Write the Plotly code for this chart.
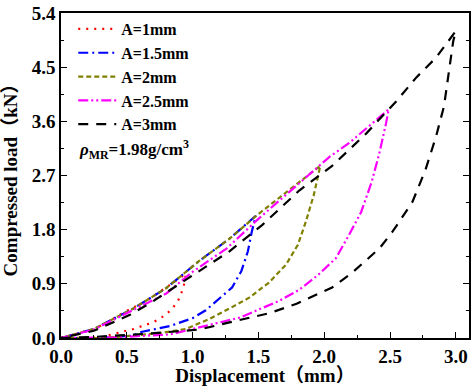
import plotly.graph_objects as go

# ---- data ----
x_a1 = [0, 0.30, 0.37, 0.47, 0.55, 0.70, 0.77, 0.84, 0.89, 0.93, 0.95,
        0.80, 0.65, 0.50, 0.25, 0]
y_a1 = [0, 0.01, 0.05, 0.10, 0.15, 0.26, 0.35, 0.47, 0.62, 0.83, 1.07,
        0.84, 0.62, 0.45, 0.14, 0]

x_a15 = [0, 0.30, 0.55, 0.61, 0.83, 1.00, 1.10, 1.20, 1.30, 1.37, 1.42, 1.45, 1.48,
         1.28, 1.05, 0.80, 0.55, 0.25, 0]
y_a15 = [0, 0.00, 0.04, 0.10, 0.20, 0.33, 0.46, 0.65, 0.84, 1.11, 1.44, 1.77, 2.03,
         1.65, 1.28, 0.83, 0.49, 0.15, 0]

x_a2 = [0, 0.30, 0.50, 0.75, 0.95, 1.13, 1.28, 1.43, 1.58, 1.71, 1.80, 1.86, 1.92, 1.97,
        1.81, 1.66, 1.50, 1.28, 1.05, 0.80, 0.55, 0.25, 0]
y_a2 = [0, 0.00, 0.03, 0.08, 0.15, 0.32, 0.49, 0.67, 0.92, 1.22, 1.55, 1.93, 2.37, 2.86,
        2.59, 2.34, 2.06, 1.65, 1.28, 0.83, 0.49, 0.15, 0]

x_a25 = [0, 0.40, 0.83, 1.05, 1.36, 1.66, 1.81, 1.96, 2.09, 2.19, 2.28, 2.36, 2.42, 2.47, 2.49,
         2.34, 2.19, 2.04, 1.81, 1.50, 1.26, 1.00, 0.80, 0.50, 0.25, 0]
y_a25 = [0, 0.01, 0.06, 0.18, 0.34, 0.62, 0.80, 1.06, 1.33, 1.72, 2.09, 2.59, 3.08, 3.57, 3.80,
         3.52, 3.24, 3.01, 2.57, 1.98, 1.49, 1.10, 0.74, 0.42, 0.14, 0]

x_a3 = [0, 0.27, 0.65, 1.05, 1.28, 1.58, 1.79, 2.06, 2.21, 2.42, 2.52, 2.67, 2.77, 2.85, 2.91,
        2.95, 2.98, 3.00,
        2.85, 2.70, 2.55, 2.32, 2.06, 1.81, 1.53, 1.28, 1.05, 0.67, 0.52, 0.25, 0]
y_a3 = [0, 0.02, 0.07, 0.14, 0.26, 0.41, 0.57, 0.84, 1.08, 1.49, 1.77, 2.26, 2.80, 3.35, 3.85,
        4.44, 4.93, 5.10,
        4.66, 4.33, 3.94, 3.40, 2.86, 2.45, 1.88, 1.44, 1.11, 0.57, 0.38, 0.12, 0]

y_ticks = [0.0, 0.9, 1.8, 2.7, 3.6, 4.5, 5.4]
x_ticks = [0.0, 0.5, 1.0, 1.5, 2.0, 2.5, 3.0]

names = ["A=1mm", "A=1.5mm", "A=2mm", "A=2.5mm", "A=3mm"]
xs = [x_a1, x_a15, x_a2, x_a25, x_a3]
ys = [y_a1, y_a15, y_a2, y_a25, y_a3]
colors = ["#ff0000", "#0000ff", "#808000", "#ff00ff", "#000000"]
dashes = ["2px,6px", "10px,4px,2px,4px", "5px,3px", "10px,3px,2px,3px,2px,3px", "10px,8px"]

fig = go.Figure()
for n, x, y, c, d in zip(names, xs, ys, colors, dashes):
    fig.add_trace(go.Scatter(x=x, y=y, mode="lines", name=n,
                             line=dict(color=c, width=2.2, dash=d)))

font_family = "Liberation Serif, Noto Sans CJK SC"
fig.update_layout(
    width=474, height=386,
    margin=dict(l=61, r=3, t=8, b=48),
    paper_bgcolor="white", plot_bgcolor="white",
    showlegend=True,
    legend=dict(x=0.03, y=1.003, xanchor="left", yanchor="top",
                bgcolor="rgba(0,0,0,0)", itemwidth=38,
                font=dict(family=font_family, size=16, color="black", weight="bold"),
                tracegroupgap=0),
    font=dict(family=font_family, color="black"),
)
fig.update_xaxes(range=[0, 3.1], tickmode="array", tickvals=x_ticks,
                 ticktext=[f"{v:.1f}" for v in x_ticks],
                 ticks="inside", ticklen=6, tickwidth=1.2, tickcolor="black",
                 minor=dict(ticks="inside", ticklen=3, dtick=0.25, tickcolor="black"),
                 showline=True, linecolor="black", linewidth=1.5, mirror=True,
                 showgrid=False, zeroline=False, ticklabeloverflow="allow",
                 tickfont=dict(family=font_family, size=19, color="black", weight="bold"),
                 title=dict(text="Displacement（mm）", standoff=0,
                            font=dict(family=font_family, size=19, color="black", weight="bold")))
fig.update_yaxes(range=[0, 5.4001], tickmode="array", tickvals=y_ticks,
                 ticktext=[f"{v:.1f}" for v in y_ticks],
                 ticks="inside", ticklen=6, tickwidth=1.2, tickcolor="black",
                 minor=dict(ticks="inside", ticklen=3, dtick=0.45, tickcolor="black"),
                 showline=True, linecolor="black", linewidth=1.5, mirror="ticks",
                 showgrid=False, zeroline=False, ticklabeloverflow="allow",
                 tickfont=dict(family=font_family, size=19, color="black", weight="bold"),
                 title=dict(text="Compressed load（kN）", standoff=12,
                            font=dict(family=font_family, size=19, color="black", weight="bold")))

fig.add_annotation(xref="paper", yref="paper", x=0.04, y=0.58, xanchor="left", yanchor="middle",
                   text="<i>ρ</i><sub>MR</sub>=1.98g/cm<sup>3</sup>", showarrow=False,
                   font=dict(family=font_family, size=17, color="black", weight="bold"))

fig.write_html("out.html", config={"displayModeBar": False},
               post_script="document.body.style.margin='0';")
